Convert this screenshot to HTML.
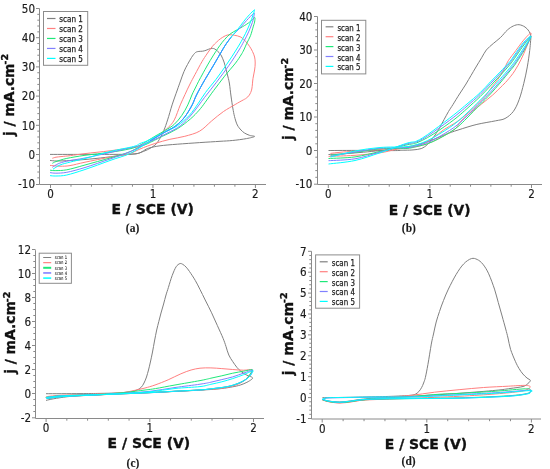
<!DOCTYPE html>
<html><head><meta charset="utf-8"><title>Cyclic voltammograms</title>
<style>html,body{margin:0;padding:0;background:#fff;}svg{display:block;}</style></head>
<body><svg width="550" height="469" viewBox="0 0 550 469">
<rect width="550" height="469" fill="#fff"/>
<path d="M39.5,8.5 V184.5 H266" fill="none" stroke="#8a8a8a" stroke-width="1"/>
<path d="M36,184.5 H39.5" stroke="#8a8a8a" stroke-width="1"/>
<path d="M37.3,177.86 H39.5" stroke="#8a8a8a" stroke-width="1"/>
<path d="M37.3,172.02 H39.5" stroke="#8a8a8a" stroke-width="1"/>
<path d="M37.3,166.18 H39.5" stroke="#8a8a8a" stroke-width="1"/>
<path d="M37.3,160.34 H39.5" stroke="#8a8a8a" stroke-width="1"/>
<path d="M36,154.5 H39.5" stroke="#8a8a8a" stroke-width="1"/>
<path d="M37.3,148.66 H39.5" stroke="#8a8a8a" stroke-width="1"/>
<path d="M37.3,142.82 H39.5" stroke="#8a8a8a" stroke-width="1"/>
<path d="M37.3,136.98 H39.5" stroke="#8a8a8a" stroke-width="1"/>
<path d="M37.3,131.14 H39.5" stroke="#8a8a8a" stroke-width="1"/>
<path d="M36,125.3 H39.5" stroke="#8a8a8a" stroke-width="1"/>
<path d="M37.3,119.46 H39.5" stroke="#8a8a8a" stroke-width="1"/>
<path d="M37.3,113.62 H39.5" stroke="#8a8a8a" stroke-width="1"/>
<path d="M37.3,107.78 H39.5" stroke="#8a8a8a" stroke-width="1"/>
<path d="M37.3,101.94 H39.5" stroke="#8a8a8a" stroke-width="1"/>
<path d="M36,96.1 H39.5" stroke="#8a8a8a" stroke-width="1"/>
<path d="M37.3,90.26 H39.5" stroke="#8a8a8a" stroke-width="1"/>
<path d="M37.3,84.42 H39.5" stroke="#8a8a8a" stroke-width="1"/>
<path d="M37.3,78.58 H39.5" stroke="#8a8a8a" stroke-width="1"/>
<path d="M37.3,72.74 H39.5" stroke="#8a8a8a" stroke-width="1"/>
<path d="M36,66.9 H39.5" stroke="#8a8a8a" stroke-width="1"/>
<path d="M37.3,61.06 H39.5" stroke="#8a8a8a" stroke-width="1"/>
<path d="M37.3,55.22 H39.5" stroke="#8a8a8a" stroke-width="1"/>
<path d="M37.3,49.38 H39.5" stroke="#8a8a8a" stroke-width="1"/>
<path d="M37.3,43.54 H39.5" stroke="#8a8a8a" stroke-width="1"/>
<path d="M36,37.7 H39.5" stroke="#8a8a8a" stroke-width="1"/>
<path d="M37.3,31.86 H39.5" stroke="#8a8a8a" stroke-width="1"/>
<path d="M37.3,26.02 H39.5" stroke="#8a8a8a" stroke-width="1"/>
<path d="M37.3,20.18 H39.5" stroke="#8a8a8a" stroke-width="1"/>
<path d="M37.3,14.34 H39.5" stroke="#8a8a8a" stroke-width="1"/>
<path d="M36,8.5 H39.5" stroke="#8a8a8a" stroke-width="1"/>
<path d="M50.5,184.5 V188" stroke="#8a8a8a" stroke-width="1"/>
<path d="M70.99,184.5 V186.7" stroke="#8a8a8a" stroke-width="1"/>
<path d="M91.48,184.5 V186.7" stroke="#8a8a8a" stroke-width="1"/>
<path d="M111.97,184.5 V186.7" stroke="#8a8a8a" stroke-width="1"/>
<path d="M132.46,184.5 V186.7" stroke="#8a8a8a" stroke-width="1"/>
<path d="M152.95,184.5 V188" stroke="#8a8a8a" stroke-width="1"/>
<path d="M173.44,184.5 V186.7" stroke="#8a8a8a" stroke-width="1"/>
<path d="M193.93,184.5 V186.7" stroke="#8a8a8a" stroke-width="1"/>
<path d="M214.42,184.5 V186.7" stroke="#8a8a8a" stroke-width="1"/>
<path d="M234.91,184.5 V186.7" stroke="#8a8a8a" stroke-width="1"/>
<path d="M255.4,184.5 V188" stroke="#8a8a8a" stroke-width="1"/>
<path d="M50.0,154.4 C56.7,154.4 77.5,154.4 90.0,154.4 C102.5,154.4 117.5,154.4 125.0,154.3 C132.5,154.2 132.5,154.3 135.0,154.0 C137.5,153.7 137.9,153.4 140.0,152.7 C142.1,152.0 145.0,150.9 147.5,149.7 C150.0,148.4 152.9,146.9 154.9,145.2 C156.9,143.5 157.9,141.8 159.4,139.3 C160.9,136.8 162.5,133.5 163.9,130.3 C165.3,127.1 166.2,124.1 167.6,119.9 C169.0,115.7 170.5,109.9 172.1,104.9 C173.7,99.9 175.9,94.0 177.3,90.0 C178.7,86.0 179.4,84.1 180.5,81.0 C181.6,77.9 182.8,74.2 184.0,71.5 C185.2,68.8 186.2,66.8 187.5,64.5 C188.8,62.2 190.2,59.5 191.5,57.5 C192.8,55.5 194.2,53.6 195.4,52.6 C196.7,51.6 197.8,51.6 199.0,51.4 C200.2,51.2 201.3,51.4 202.5,51.2 C203.7,51.0 204.6,50.8 206.0,50.3 C207.4,49.8 209.4,48.8 210.7,48.5 C211.9,48.2 212.6,48.3 213.5,48.5 C214.4,48.7 215.1,49.2 216.0,49.9 C216.9,50.6 218.1,51.5 219.0,52.5 C219.9,53.5 220.7,54.4 221.5,56.0 C222.3,57.6 223.2,59.8 224.0,62.0 C224.8,64.2 225.4,67.0 226.1,69.5 C226.8,72.0 227.4,74.6 228.0,77.0 C228.6,79.4 229.0,80.8 229.5,84.0 C230.0,87.2 230.4,92.0 231.0,96.0 C231.6,100.0 232.2,104.6 232.8,108.0 C233.4,111.4 233.8,113.7 234.5,116.5 C235.2,119.3 236.2,122.8 237.3,125.0 C238.4,127.2 239.8,128.7 241.0,130.0 C242.2,131.3 243.1,132.1 244.5,133.0 C245.9,133.9 248.0,134.8 249.7,135.4 C251.4,136.0 255.1,136.0 254.6,136.5 C254.1,137.0 250.2,137.9 246.5,138.6 C242.8,139.3 236.7,140.1 232.3,140.5 C227.9,140.9 225.4,141.0 220.0,141.3 C214.6,141.7 206.8,142.1 199.7,142.6 C192.6,143.1 183.9,143.7 177.3,144.2 C170.7,144.7 164.6,145.2 160.0,145.8 C155.4,146.4 152.3,147.2 150.0,147.8 C147.7,148.4 147.7,148.3 146.2,149.1 C144.7,149.8 142.5,151.6 141.0,152.3 C139.5,153.0 140.1,153.1 137.3,153.5 C134.6,153.9 129.8,154.2 124.5,154.8 C119.2,155.5 112.1,156.6 105.5,157.4 C98.9,158.2 90.9,159.0 85.0,159.5 C79.1,160.0 74.7,160.2 70.0,160.5 C65.3,160.8 60.3,161.0 57.0,161.0 C53.7,161.0 51.2,160.5 50.0,160.4" fill="none" stroke="#808080" stroke-width="1" stroke-linejoin="round"/>
<path d="M52.3,158.3 C52.9,158.1 54.4,157.5 56.0,157.2 C57.6,156.9 59.6,156.8 62.0,156.5 C64.4,156.2 66.7,156.1 70.5,155.6 C74.3,155.1 78.4,154.4 85.0,153.6 C91.6,152.8 101.9,151.8 110.0,150.8 C118.1,149.8 128.5,148.2 133.5,147.5 C138.5,146.8 137.4,147.4 140.0,146.5 C142.6,145.6 145.8,144.1 149.0,142.2 C152.2,140.2 156.2,137.3 159.4,134.8 C162.6,132.3 165.9,129.8 168.4,127.3 C170.9,124.8 172.3,123.6 174.3,119.9 C176.3,116.2 178.5,109.1 180.3,104.9 C182.1,100.7 183.4,98.0 185.0,94.5 C186.6,91.0 188.3,87.3 190.0,84.0 C191.7,80.7 193.0,78.2 195.0,74.5 C197.0,70.8 200.0,65.0 202.0,61.6 C204.0,58.2 205.2,56.5 206.9,54.0 C208.6,51.5 210.8,48.4 212.4,46.4 C214.0,44.4 215.3,43.3 216.7,42.0 C218.1,40.7 219.0,39.7 220.8,38.5 C222.6,37.3 225.3,35.5 227.5,35.0 C229.7,34.5 232.0,34.9 234.2,35.2 C236.4,35.6 239.0,36.1 240.9,37.1 C242.8,38.1 244.3,40.0 245.7,41.5 C247.1,43.0 248.4,44.6 249.5,46.3 C250.6,48.0 251.7,49.7 252.5,51.5 C253.3,53.3 254.2,55.1 254.6,57.0 C255.0,58.9 255.2,60.8 255.2,63.0 C255.2,65.2 255.0,67.4 254.6,70.0 C254.2,72.6 253.5,75.2 253.0,78.4 C252.5,81.6 252.4,86.2 251.8,89.0 C251.2,91.8 250.2,93.6 249.3,95.1 C248.4,96.6 247.2,97.4 246.2,98.2 C245.2,99.0 245.3,98.8 243.5,99.8 C241.7,100.8 238.5,102.5 235.2,104.5 C231.9,106.5 227.4,108.8 223.5,111.5 C219.6,114.2 215.7,117.6 211.7,120.9 C207.7,124.2 204.2,128.5 199.7,131.1 C195.2,133.7 189.8,134.9 184.8,136.3 C179.8,137.7 174.9,138.1 169.9,139.3 C164.9,140.5 159.9,141.9 154.9,143.5 C149.9,145.1 144.4,147.2 140.0,149.0 C135.6,150.8 133.2,152.7 128.2,154.1 C123.2,155.5 117.2,155.8 110.0,157.2 C102.8,158.5 91.7,160.8 85.0,162.2 C78.3,163.6 74.2,164.9 70.0,165.6 C65.8,166.3 63.3,166.2 60.0,166.2 C56.7,166.2 51.7,165.5 50.0,165.4" fill="none" stroke="#ff8080" stroke-width="1" stroke-linejoin="round"/>
<path d="M52.3,163.4 C52.9,163.1 53.5,162.4 55.9,161.6 C58.3,160.8 61.9,159.4 66.8,158.4 C71.6,157.4 77.8,156.3 85.0,155.3 C92.2,154.3 102.5,153.4 110.0,152.3 C117.5,151.2 125.0,150.0 130.0,148.8 C135.0,147.6 135.8,147.3 140.0,145.2 C144.2,143.1 150.7,138.8 154.9,136.3 C159.1,133.8 162.2,132.3 165.4,130.3 C168.6,128.3 171.6,126.8 174.3,124.3 C177.0,121.8 179.6,118.6 181.8,115.4 C184.1,112.2 186.1,108.3 187.8,104.9 C189.5,101.5 190.5,98.2 191.9,95.0 C193.3,91.8 195.1,88.5 196.3,86.0 C197.5,83.5 197.9,82.7 199.3,80.0 C200.8,77.3 203.2,72.8 205.0,69.6 C206.8,66.3 208.4,63.5 210.2,60.5 C212.0,57.5 214.0,54.3 215.6,51.8 C217.2,49.3 218.5,47.3 220.0,45.3 C221.5,43.2 222.9,41.4 224.6,39.5 C226.3,37.6 227.9,35.7 230.1,34.0 C232.3,32.3 234.9,31.1 237.7,29.5 C240.5,27.9 244.4,25.7 246.7,24.2 C249.0,22.7 250.2,21.5 251.5,20.4 C252.8,19.3 254.3,17.2 254.8,17.5 C255.3,17.8 254.8,20.6 254.6,22.0 C254.4,23.4 254.1,23.8 253.4,26.1 C252.7,28.4 251.6,32.8 250.5,35.7 C249.4,38.6 247.8,41.0 246.7,43.4 C245.6,45.8 244.8,48.1 243.8,50.0 C242.9,51.9 242.4,52.8 241.0,55.0 C239.6,57.2 238.2,59.6 235.5,63.1 C232.8,66.6 228.2,71.6 224.6,76.2 C221.0,80.8 217.0,86.1 213.7,90.5 C210.4,94.9 207.4,99.3 205.0,102.6 C202.6,105.9 201.5,107.5 199.1,110.2 C196.7,112.9 194.2,115.7 190.6,118.8 C187.0,121.9 182.0,125.9 177.3,128.8 C172.6,131.7 167.4,133.8 162.4,136.3 C157.4,138.8 151.2,142.0 147.5,143.7 C143.8,145.4 143.2,145.2 140.0,146.7 C136.8,148.2 133.0,150.6 128.0,152.5 C123.0,154.4 117.2,155.9 110.0,158.0 C102.8,160.1 92.2,163.0 85.0,165.0 C77.8,167.0 71.6,168.9 66.8,169.8 C61.9,170.7 58.7,170.5 55.9,170.6 C53.1,170.7 51.0,170.3 50.0,170.2" fill="none" stroke="#1ee87a" stroke-width="1" stroke-linejoin="round"/>
<path d="M50.0,172.6 C51.0,172.7 53.1,173.2 55.9,173.2 C58.7,173.1 61.9,173.2 66.8,172.3 C71.6,171.4 77.8,169.7 85.0,167.5 C92.2,165.3 102.8,161.5 110.0,159.0 C117.2,156.5 123.0,154.5 128.0,152.5 C133.0,150.5 135.5,149.4 140.0,147.0 C144.5,144.6 150.7,140.3 154.9,137.8 C159.1,135.3 161.9,133.8 165.4,131.8 C168.9,129.8 172.6,128.3 175.8,125.8 C179.0,123.3 182.1,120.4 184.8,116.9 C187.5,113.4 190.2,108.6 192.2,104.9 C194.1,101.2 194.4,99.2 196.5,95.0 C198.6,90.8 202.1,84.5 205.0,79.5 C207.9,74.5 210.9,69.8 213.7,65.0 C216.5,60.2 219.7,54.6 221.8,51.0 C223.9,47.4 224.8,45.9 226.5,43.4 C228.2,40.9 230.1,38.3 232.3,35.7 C234.6,33.1 237.6,30.6 240.0,28.0 C242.4,25.4 244.5,22.8 246.7,20.4 C248.9,18.0 252.1,14.6 253.4,13.6 C254.7,12.6 254.5,12.8 254.3,14.2 C254.1,15.6 253.4,19.4 252.4,22.3 C251.4,25.2 250.0,28.7 248.6,31.9 C247.2,35.1 245.4,38.5 243.8,41.5 C242.2,44.5 241.5,46.0 239.0,50.0 C236.5,54.0 232.8,59.9 229.0,65.3 C225.2,70.7 220.6,76.8 216.5,82.2 C212.4,87.6 208.6,92.2 204.5,97.5 C200.4,102.8 196.2,109.1 192.2,113.8 C188.2,118.5 184.5,122.5 180.3,125.8 C176.1,129.1 171.6,130.8 166.9,133.3 C162.2,135.8 156.4,138.7 151.9,140.7 C147.4,142.7 143.1,144.4 140.0,145.5 C136.9,146.6 138.5,145.8 133.5,147.0 C128.5,148.2 118.1,150.7 110.0,152.5 C101.9,154.3 92.2,156.6 85.0,158.0 C77.8,159.4 71.3,160.2 66.8,161.2 C62.3,162.2 60.5,162.8 58.1,163.8 C55.7,164.8 53.3,166.7 52.3,167.3" fill="none" stroke="#8080ff" stroke-width="1" stroke-linejoin="round"/>
<path d="M50.0,175.6 C51.0,175.7 53.1,176.1 55.9,176.0 C58.7,175.9 61.9,176.1 66.8,175.0 C71.6,173.9 77.8,171.9 85.0,169.5 C92.2,167.1 102.8,163.1 110.0,160.5 C117.2,157.9 123.4,156.4 128.4,154.2 C133.4,152.0 135.6,150.2 140.0,147.5 C144.4,144.8 150.7,140.6 154.9,138.0 C159.1,135.4 161.9,133.8 165.4,131.8 C168.9,129.8 172.6,128.3 175.8,125.8 C179.0,123.3 182.1,120.4 184.8,116.9 C187.5,113.4 190.2,108.6 192.2,104.9 C194.1,101.2 194.4,99.2 196.5,95.0 C198.6,90.8 202.1,84.5 205.0,79.5 C207.9,74.5 210.9,69.8 213.7,65.0 C216.5,60.2 219.7,54.6 221.8,51.0 C223.9,47.4 224.8,45.9 226.5,43.4 C228.2,40.9 230.4,38.1 232.3,35.7 C234.2,33.3 236.1,31.4 238.0,29.0 C239.9,26.6 241.9,23.7 243.8,21.3 C245.7,18.9 247.8,16.4 249.5,14.6 C251.2,12.8 253.1,10.9 253.9,10.3 C254.7,9.7 254.7,9.3 254.3,10.8 C253.9,12.3 252.6,16.4 251.5,19.4 C250.4,22.4 249.0,25.8 247.6,29.0 C246.2,32.2 244.7,35.1 242.8,38.6 C240.9,42.1 238.8,45.7 236.1,50.0 C233.4,54.3 230.2,59.3 226.8,64.2 C223.4,69.1 219.5,74.8 215.9,79.5 C212.3,84.2 208.4,88.5 205.5,92.5 C202.6,96.5 200.9,99.6 198.2,103.4 C195.5,107.2 192.8,111.7 189.3,115.4 C185.8,119.1 181.8,122.8 177.3,125.8 C172.8,128.8 167.4,130.8 162.4,133.3 C157.4,135.8 151.2,139.0 147.5,140.7 C143.8,142.4 142.3,142.5 140.0,143.5 C137.7,144.5 138.5,145.2 133.5,146.5 C128.5,147.8 118.1,149.5 110.0,151.5 C101.9,153.5 91.6,156.8 85.0,158.5 C78.4,160.2 74.7,160.9 70.5,162.0 C66.3,163.1 62.9,163.8 60.0,165.0 C57.1,166.2 54.2,168.5 53.0,169.2" fill="none" stroke="#00ffff" stroke-width="1" stroke-linejoin="round"/>
<path d="M150.0,140.8 C150.8,140.3 152.3,139.5 154.9,138.0 C157.5,136.5 161.9,133.8 165.4,131.8 C168.9,129.8 172.6,128.3 175.8,125.8 C179.0,123.3 182.1,120.4 184.8,116.9 C187.5,113.4 190.2,108.6 192.2,104.9 C194.1,101.2 194.4,99.2 196.5,95.0 C198.6,90.8 202.1,84.5 205.0,79.5 C207.9,74.5 210.9,69.8 213.7,65.0 C216.5,60.2 219.7,54.6 221.8,51.0 C223.9,47.4 225.0,45.6 226.5,43.4 C228.0,41.1 230.2,38.5 231.0,37.5" fill="none" stroke="#3c8cff" stroke-width="1.0" stroke-linejoin="round"/>
<rect x="43.5" y="11.5" width="44.2" height="53.8" fill="#fff" stroke="#8c8c8c" stroke-width="1"/>
<path d="M47,18.5 H55.5" stroke="#808080" stroke-width="1.2"/>
<text x="59.2" y="22.1" font-family="DejaVu Sans Condensed, Liberation Sans, sans-serif" font-size="9" fill="#222" stroke="#222" stroke-width="0.25" textLength="23.7" lengthAdjust="spacingAndGlyphs">scan 1</text>
<path d="M47,28.48 H55.5" stroke="#ff8080" stroke-width="1.2"/>
<text x="59.2" y="32.08" font-family="DejaVu Sans Condensed, Liberation Sans, sans-serif" font-size="9" fill="#222" stroke="#222" stroke-width="0.25" textLength="23.7" lengthAdjust="spacingAndGlyphs">scan 2</text>
<path d="M47,38.46 H55.5" stroke="#1ee87a" stroke-width="1.2"/>
<text x="59.2" y="42.06" font-family="DejaVu Sans Condensed, Liberation Sans, sans-serif" font-size="9" fill="#222" stroke="#222" stroke-width="0.25" textLength="23.7" lengthAdjust="spacingAndGlyphs">scan 3</text>
<path d="M47,48.44 H55.5" stroke="#8080ff" stroke-width="1.2"/>
<text x="59.2" y="52.04" font-family="DejaVu Sans Condensed, Liberation Sans, sans-serif" font-size="9" fill="#222" stroke="#222" stroke-width="0.25" textLength="23.7" lengthAdjust="spacingAndGlyphs">scan 4</text>
<path d="M47,58.42 H55.5" stroke="#00ffff" stroke-width="1.2"/>
<text x="59.2" y="62.02" font-family="DejaVu Sans Condensed, Liberation Sans, sans-serif" font-size="9" fill="#222" stroke="#222" stroke-width="0.25" textLength="23.7" lengthAdjust="spacingAndGlyphs">scan 5</text>
<text x="35" y="187.9" text-anchor="end" font-family="DejaVu Sans Condensed, Liberation Sans, sans-serif" font-size="11.5" fill="#1a1a1a" stroke="#1a1a1a" stroke-width="0.15">-10</text>
<text x="35" y="158.7" text-anchor="end" font-family="DejaVu Sans Condensed, Liberation Sans, sans-serif" font-size="11.5" fill="#1a1a1a" stroke="#1a1a1a" stroke-width="0.15">0</text>
<text x="35" y="129.5" text-anchor="end" font-family="DejaVu Sans Condensed, Liberation Sans, sans-serif" font-size="11.5" fill="#1a1a1a" stroke="#1a1a1a" stroke-width="0.15">10</text>
<text x="35" y="100.3" text-anchor="end" font-family="DejaVu Sans Condensed, Liberation Sans, sans-serif" font-size="11.5" fill="#1a1a1a" stroke="#1a1a1a" stroke-width="0.15">20</text>
<text x="35" y="71.1" text-anchor="end" font-family="DejaVu Sans Condensed, Liberation Sans, sans-serif" font-size="11.5" fill="#1a1a1a" stroke="#1a1a1a" stroke-width="0.15">30</text>
<text x="35" y="41.9" text-anchor="end" font-family="DejaVu Sans Condensed, Liberation Sans, sans-serif" font-size="11.5" fill="#1a1a1a" stroke="#1a1a1a" stroke-width="0.15">40</text>
<text x="35" y="12.7" text-anchor="end" font-family="DejaVu Sans Condensed, Liberation Sans, sans-serif" font-size="11.5" fill="#1a1a1a" stroke="#1a1a1a" stroke-width="0.15">50</text>
<text x="50.5" y="197.9" text-anchor="middle" font-family="DejaVu Sans Condensed, Liberation Sans, sans-serif" font-size="11.5" fill="#1a1a1a" stroke="#1a1a1a" stroke-width="0.15">0</text>
<text x="152.95" y="197.9" text-anchor="middle" font-family="DejaVu Sans Condensed, Liberation Sans, sans-serif" font-size="11.5" fill="#1a1a1a" stroke="#1a1a1a" stroke-width="0.15">1</text>
<text x="255.4" y="197.9" text-anchor="middle" font-family="DejaVu Sans Condensed, Liberation Sans, sans-serif" font-size="11.5" fill="#1a1a1a" stroke="#1a1a1a" stroke-width="0.15">2</text>
<text x="111.4" y="213.6" font-family="DejaVu Sans, Liberation Sans, sans-serif" font-weight="bold" font-size="14.2" fill="#111" stroke="#111" stroke-width="0.35" textLength="82.6" lengthAdjust="spacingAndGlyphs">E / SCE (V)</text>
<text transform="translate(13.6,136.1) rotate(-90)" font-family="DejaVu Sans, Liberation Sans, sans-serif" font-weight="bold" font-size="13.2" fill="#111" stroke="#111" stroke-width="0.35"><tspan textLength="72.6" lengthAdjust="spacingAndGlyphs">j / mA.cm</tspan><tspan dx="-1.0" dy="-5.2" font-size="9.5">-2</tspan></text>
<text x="125.8" y="231.6" font-family="Liberation Serif, serif" font-weight="bold" font-size="11.5" fill="#1a1a1a" stroke="#1a1a1a" stroke-width="0.1">(a)</text>
<path d="M317.5,16.5 V184.5 H542" fill="none" stroke="#8a8a8a" stroke-width="1"/>
<path d="M314,184.2 H317.5" stroke="#8a8a8a" stroke-width="1"/>
<path d="M315.3,177.3 H317.5" stroke="#8a8a8a" stroke-width="1"/>
<path d="M315.3,170.6 H317.5" stroke="#8a8a8a" stroke-width="1"/>
<path d="M315.3,163.9 H317.5" stroke="#8a8a8a" stroke-width="1"/>
<path d="M315.3,157.2 H317.5" stroke="#8a8a8a" stroke-width="1"/>
<path d="M314,150.5 H317.5" stroke="#8a8a8a" stroke-width="1"/>
<path d="M315.3,143.8 H317.5" stroke="#8a8a8a" stroke-width="1"/>
<path d="M315.3,137.1 H317.5" stroke="#8a8a8a" stroke-width="1"/>
<path d="M315.3,130.4 H317.5" stroke="#8a8a8a" stroke-width="1"/>
<path d="M315.3,123.7 H317.5" stroke="#8a8a8a" stroke-width="1"/>
<path d="M314,117 H317.5" stroke="#8a8a8a" stroke-width="1"/>
<path d="M315.3,110.3 H317.5" stroke="#8a8a8a" stroke-width="1"/>
<path d="M315.3,103.6 H317.5" stroke="#8a8a8a" stroke-width="1"/>
<path d="M315.3,96.9 H317.5" stroke="#8a8a8a" stroke-width="1"/>
<path d="M315.3,90.2 H317.5" stroke="#8a8a8a" stroke-width="1"/>
<path d="M314,83.5 H317.5" stroke="#8a8a8a" stroke-width="1"/>
<path d="M315.3,76.8 H317.5" stroke="#8a8a8a" stroke-width="1"/>
<path d="M315.3,70.1 H317.5" stroke="#8a8a8a" stroke-width="1"/>
<path d="M315.3,63.4 H317.5" stroke="#8a8a8a" stroke-width="1"/>
<path d="M315.3,56.7 H317.5" stroke="#8a8a8a" stroke-width="1"/>
<path d="M314,50 H317.5" stroke="#8a8a8a" stroke-width="1"/>
<path d="M315.3,43.3 H317.5" stroke="#8a8a8a" stroke-width="1"/>
<path d="M315.3,36.6 H317.5" stroke="#8a8a8a" stroke-width="1"/>
<path d="M315.3,29.9 H317.5" stroke="#8a8a8a" stroke-width="1"/>
<path d="M315.3,23.2 H317.5" stroke="#8a8a8a" stroke-width="1"/>
<path d="M314,16.5 H317.5" stroke="#8a8a8a" stroke-width="1"/>
<path d="M328.3,184.5 V188" stroke="#8a8a8a" stroke-width="1"/>
<path d="M348.62,184.5 V186.7" stroke="#8a8a8a" stroke-width="1"/>
<path d="M368.94,184.5 V186.7" stroke="#8a8a8a" stroke-width="1"/>
<path d="M389.26,184.5 V186.7" stroke="#8a8a8a" stroke-width="1"/>
<path d="M409.58,184.5 V186.7" stroke="#8a8a8a" stroke-width="1"/>
<path d="M429.9,184.5 V188" stroke="#8a8a8a" stroke-width="1"/>
<path d="M450.22,184.5 V186.7" stroke="#8a8a8a" stroke-width="1"/>
<path d="M470.54,184.5 V186.7" stroke="#8a8a8a" stroke-width="1"/>
<path d="M490.86,184.5 V186.7" stroke="#8a8a8a" stroke-width="1"/>
<path d="M511.18,184.5 V186.7" stroke="#8a8a8a" stroke-width="1"/>
<path d="M531.5,184.5 V188" stroke="#8a8a8a" stroke-width="1"/>
<path d="M328.5,150.5 C333.8,150.5 349.3,150.4 360.0,150.4 C370.7,150.4 385.2,150.6 392.7,150.6 C400.2,150.6 401.6,150.3 405.0,150.2 C408.4,150.1 410.3,150.2 413.0,149.9 C415.7,149.6 418.8,149.5 421.2,148.6 C423.6,147.7 425.7,146.1 427.7,144.3 C429.7,142.5 431.4,140.2 433.2,137.7 C435.0,135.2 436.8,132.5 438.6,129.5 C440.4,126.5 442.5,122.5 444.1,119.5 C445.8,116.5 447.0,114.0 448.5,111.5 C450.0,109.0 451.2,107.4 453.0,104.5 C454.8,101.6 457.3,97.4 459.5,94.0 C461.7,90.6 464.1,87.1 466.0,84.0 C467.9,80.9 469.3,78.3 471.0,75.5 C472.7,72.7 474.2,70.0 476.0,67.0 C477.8,64.0 479.9,60.6 481.6,57.8 C483.3,55.0 484.4,52.4 486.3,50.0 C488.2,47.6 491.0,45.6 493.3,43.5 C495.6,41.4 498.0,39.9 500.4,37.6 C502.8,35.4 505.2,31.9 507.4,30.0 C509.5,28.1 511.3,26.9 513.3,26.0 C515.2,25.1 517.1,24.5 519.1,24.7 C521.1,24.9 523.3,25.9 525.0,27.0 C526.7,28.1 528.2,29.9 529.2,31.5 C530.2,33.1 530.6,34.6 530.8,36.4 C531.0,38.1 530.7,39.6 530.5,42.0 C530.3,44.4 530.2,46.4 529.7,50.5 C529.2,54.6 528.3,61.4 527.3,66.9 C526.3,72.4 525.2,77.8 523.8,83.3 C522.4,88.8 520.9,95.0 519.1,99.7 C517.4,104.4 515.6,108.4 513.3,111.5 C510.9,114.6 507.9,117.0 505.0,118.5 C502.1,120.0 500.4,119.8 495.7,120.8 C491.0,121.8 483.2,122.9 476.9,124.4 C470.6,125.9 463.2,128.4 458.1,130.0 C453.0,131.6 450.4,132.6 446.2,134.2 C442.0,135.8 437.5,138.0 433.1,139.6 C428.7,141.2 424.7,142.7 420.0,144.0 C415.3,145.3 410.0,146.4 405.0,147.3 C400.0,148.2 397.5,148.6 390.0,149.5 C382.5,150.4 368.3,151.8 360.0,152.5 C351.7,153.2 345.2,153.7 340.0,154.0 C334.8,154.3 330.4,154.4 328.5,154.5" fill="none" stroke="#808080" stroke-width="1" stroke-linejoin="round"/>
<path d="M328.5,156.4 C330.4,156.3 335.6,156.2 340.0,156.0 C344.4,155.8 348.3,155.8 355.0,155.3 C361.7,154.8 373.3,153.8 380.0,152.8 C386.7,151.9 390.8,150.4 395.0,149.6 C399.2,148.8 401.4,148.7 405.0,148.2 C408.6,147.7 413.0,147.4 416.8,146.6 C420.6,145.8 424.1,144.9 427.7,143.6 C431.3,142.3 434.1,141.0 438.6,138.6 C443.2,136.2 451.4,131.8 455.0,129.0 C458.6,126.2 457.6,124.4 460.5,121.5 C463.4,118.6 468.7,114.4 472.2,111.5 C475.7,108.6 478.2,106.8 481.6,104.0 C485.0,101.2 489.5,97.8 492.7,95.0 C495.9,92.2 498.5,89.4 500.9,87.0 C503.3,84.6 504.7,83.5 507.0,80.8 C509.3,78.1 512.4,74.5 514.7,70.9 C517.1,67.3 519.2,63.2 521.1,59.4 C523.0,55.6 524.7,51.5 526.2,47.9 C527.7,44.3 529.3,40.2 530.0,37.7 C530.7,35.2 531.7,32.6 530.6,33.0 C529.5,33.4 526.1,37.3 523.6,40.2 C521.1,43.1 518.4,47.1 515.9,50.5 C513.4,53.9 510.3,57.5 508.3,60.7 C506.3,63.9 505.6,66.6 503.9,69.7 C502.2,72.8 499.9,76.5 497.9,79.4 C495.9,82.3 493.9,84.3 491.9,86.9 C489.9,89.5 488.0,92.6 486.0,95.0 C484.0,97.4 483.2,98.3 480.0,101.5 C476.8,104.7 471.2,110.4 467.0,114.0 C462.8,117.6 458.8,120.4 455.0,123.0 C451.2,125.6 447.7,127.0 444.1,129.5 C440.5,131.9 436.8,135.3 433.2,137.7 C429.6,140.1 425.9,142.4 422.3,144.0 C418.7,145.6 415.9,146.2 411.4,147.0 C406.8,147.8 400.2,148.2 395.0,148.6 C389.8,149.0 386.7,149.1 380.0,149.5 C373.3,149.9 361.7,150.7 355.0,151.2 C348.3,151.7 344.1,151.9 340.0,152.3 C335.9,152.7 332.1,153.2 330.5,153.4" fill="none" stroke="#ff8080" stroke-width="1" stroke-linejoin="round"/>
<path d="M328.5,158.5 C332.9,158.2 346.4,158.1 355.0,156.9 C363.6,155.7 371.5,153.4 380.0,151.4 C388.5,149.4 399.8,146.5 405.9,145.1 C412.0,143.7 413.2,144.1 416.8,142.8 C420.4,141.5 424.1,139.5 427.7,137.5 C431.3,135.5 435.0,133.0 438.6,130.6 C442.2,128.2 446.3,125.3 449.5,123.0 C452.7,120.7 455.1,118.9 458.0,116.5 C460.9,114.1 463.3,111.9 467.0,108.6 C470.7,105.3 476.1,100.5 480.0,96.7 C483.9,92.9 487.1,89.4 490.4,85.9 C493.7,82.4 496.8,79.2 500.0,75.7 C503.2,72.2 507.5,67.5 509.9,64.6 C512.3,61.7 512.4,61.3 514.5,58.4 C516.6,55.5 520.1,50.1 522.3,47.1 C524.5,44.1 526.1,42.0 527.5,40.3 C528.9,38.5 530.1,37.0 530.6,36.6 C531.1,36.2 531.1,36.5 530.6,37.7 C530.1,39.0 528.9,41.5 527.5,44.1 C526.1,46.7 524.5,50.0 522.3,53.5 C520.1,57.0 516.6,62.4 514.5,65.3 C512.4,68.2 512.3,68.0 509.9,71.0 C507.5,74.0 503.2,79.3 500.0,83.1 C496.8,86.9 493.7,90.4 490.4,94.0 C487.1,97.6 483.9,100.5 480.0,104.5 C476.1,108.5 470.7,114.3 467.0,118.0 C463.3,121.7 460.9,124.2 458.0,126.6 C455.1,129.0 452.7,130.6 449.5,132.6 C446.3,134.6 442.2,137.0 438.6,138.8 C435.0,140.7 431.3,142.4 427.7,143.7 C424.1,145.0 420.4,145.7 416.8,146.5 C413.2,147.3 412.0,148.1 405.9,148.5 C399.8,148.9 388.5,148.1 380.0,148.8 C371.5,149.5 363.2,151.4 355.0,152.5 C346.8,153.6 334.6,154.8 330.5,155.3" fill="none" stroke="#1ee87a" stroke-width="1" stroke-linejoin="round"/>
<path d="M328.5,160.7 C332.9,160.4 346.4,160.2 355.0,158.8 C363.6,157.4 371.5,154.4 380.0,152.0 C388.5,149.6 399.8,145.9 405.9,144.2 C412.0,142.5 413.2,143.2 416.8,141.8 C420.4,140.4 424.1,138.2 427.7,135.9 C431.3,133.7 435.0,130.9 438.6,128.3 C442.2,125.7 446.3,122.8 449.5,120.4 C452.7,118.0 455.1,116.2 458.0,113.8 C460.9,111.4 463.3,109.3 467.0,106.1 C470.7,102.9 476.1,98.3 480.0,94.6 C483.9,90.9 487.1,87.2 490.4,83.7 C493.7,80.2 496.8,77.2 500.0,73.7 C503.2,70.2 507.5,65.8 509.9,62.9 C512.3,60.0 512.4,59.4 514.5,56.5 C516.6,53.6 520.1,48.3 522.3,45.4 C524.5,42.5 526.1,40.8 527.5,39.3 C528.9,37.8 530.1,36.6 530.6,36.3 C531.1,36.0 531.1,36.2 530.6,37.4 C530.1,38.6 528.9,40.8 527.5,43.3 C526.1,45.8 524.5,48.7 522.3,52.1 C520.1,55.5 516.6,60.8 514.5,63.7 C512.4,66.6 512.3,66.6 509.9,69.6 C507.5,72.5 503.2,77.6 500.0,81.4 C496.8,85.2 493.7,88.7 490.4,92.2 C487.1,95.8 483.9,98.8 480.0,102.7 C476.1,106.7 470.7,112.3 467.0,115.9 C463.3,119.5 460.9,122.0 458.0,124.4 C455.1,126.8 452.7,128.4 449.5,130.5 C446.3,132.6 442.2,135.0 438.6,137.0 C435.0,139.0 431.3,140.9 427.7,142.3 C424.1,143.8 420.4,144.8 416.8,145.7 C413.2,146.6 412.0,147.3 405.9,147.7 C399.8,148.1 388.5,147.5 380.0,148.2 C371.5,148.9 363.2,150.7 355.0,152.0 C346.8,153.3 334.6,155.6 330.5,156.3" fill="none" stroke="#8080ff" stroke-width="1" stroke-linejoin="round"/>
<path d="M328.5,164.0 C332.9,163.4 346.4,162.4 355.0,160.5 C363.6,158.6 371.5,155.6 380.0,152.8 C388.5,150.0 399.8,145.5 405.9,143.5 C412.0,141.5 413.2,142.5 416.8,141.0 C420.4,139.5 424.1,136.9 427.7,134.5 C431.3,132.1 435.0,129.2 438.6,126.5 C442.2,123.8 446.3,120.7 449.5,118.2 C452.7,115.7 455.1,113.9 458.0,111.5 C460.9,109.1 463.3,107.1 467.0,104.0 C470.7,100.9 476.1,96.5 480.0,92.8 C483.9,89.1 487.1,85.4 490.4,81.9 C493.7,78.5 496.8,75.5 500.0,72.1 C503.2,68.7 507.5,64.3 509.9,61.5 C512.3,58.6 512.4,57.9 514.5,55.0 C516.6,52.1 520.1,46.8 522.3,44.0 C524.5,41.2 526.1,39.8 527.5,38.5 C528.9,37.2 530.1,36.2 530.6,36.0 C531.1,35.8 531.1,36.1 530.6,37.1 C530.1,38.1 528.9,39.9 527.5,42.1 C526.1,44.3 524.5,46.9 522.3,50.2 C520.1,53.5 516.6,58.8 514.5,61.7 C512.4,64.6 512.3,64.8 509.9,67.7 C507.5,70.6 503.2,75.5 500.0,79.2 C496.8,82.9 493.7,86.3 490.4,89.8 C487.1,93.3 483.9,96.5 480.0,100.4 C476.1,104.3 470.7,109.6 467.0,113.1 C463.3,116.6 460.9,118.9 458.0,121.3 C455.1,123.7 452.7,125.4 449.5,127.6 C446.3,129.8 442.2,132.3 438.6,134.5 C435.0,136.7 431.3,138.8 427.7,140.5 C424.1,142.2 420.4,143.6 416.8,144.6 C413.2,145.6 412.0,146.2 405.9,146.7 C399.8,147.2 388.5,146.8 380.0,147.5 C371.5,148.2 363.2,149.4 355.0,151.0 C346.8,152.6 334.6,156.0 330.5,157.0" fill="none" stroke="#00ffff" stroke-width="1" stroke-linejoin="round"/>
<rect x="321.5" y="20.3" width="44.3" height="53.6" fill="#fff" stroke="#8c8c8c" stroke-width="1"/>
<path d="M325.6,26.8 H333.4" stroke="#808080" stroke-width="1.2"/>
<text x="337.4" y="30.8" font-family="DejaVu Sans Condensed, Liberation Sans, sans-serif" font-size="9" fill="#222" stroke="#222" stroke-width="0.25" textLength="23.0" lengthAdjust="spacingAndGlyphs">scan 1</text>
<path d="M325.6,36.7 H333.4" stroke="#ff8080" stroke-width="1.2"/>
<text x="337.4" y="40.7" font-family="DejaVu Sans Condensed, Liberation Sans, sans-serif" font-size="9" fill="#222" stroke="#222" stroke-width="0.25" textLength="23.0" lengthAdjust="spacingAndGlyphs">scan 2</text>
<path d="M325.6,46.6 H333.4" stroke="#1ee87a" stroke-width="1.2"/>
<text x="337.4" y="50.6" font-family="DejaVu Sans Condensed, Liberation Sans, sans-serif" font-size="9" fill="#222" stroke="#222" stroke-width="0.25" textLength="23.0" lengthAdjust="spacingAndGlyphs">scan 3</text>
<path d="M325.6,56.5 H333.4" stroke="#8080ff" stroke-width="1.2"/>
<text x="337.4" y="60.5" font-family="DejaVu Sans Condensed, Liberation Sans, sans-serif" font-size="9" fill="#222" stroke="#222" stroke-width="0.25" textLength="23.0" lengthAdjust="spacingAndGlyphs">scan 4</text>
<path d="M325.6,66.4 H333.4" stroke="#00ffff" stroke-width="1.2"/>
<text x="337.4" y="70.4" font-family="DejaVu Sans Condensed, Liberation Sans, sans-serif" font-size="9" fill="#222" stroke="#222" stroke-width="0.25" textLength="23.0" lengthAdjust="spacingAndGlyphs">scan 5</text>
<text x="312.3" y="188.2" text-anchor="end" font-family="DejaVu Sans Condensed, Liberation Sans, sans-serif" font-size="11.5" fill="#1a1a1a" stroke="#1a1a1a" stroke-width="0.15">-10</text>
<text x="312.3" y="154.7" text-anchor="end" font-family="DejaVu Sans Condensed, Liberation Sans, sans-serif" font-size="11.5" fill="#1a1a1a" stroke="#1a1a1a" stroke-width="0.15">0</text>
<text x="312.3" y="121.2" text-anchor="end" font-family="DejaVu Sans Condensed, Liberation Sans, sans-serif" font-size="11.5" fill="#1a1a1a" stroke="#1a1a1a" stroke-width="0.15">10</text>
<text x="312.3" y="87.7" text-anchor="end" font-family="DejaVu Sans Condensed, Liberation Sans, sans-serif" font-size="11.5" fill="#1a1a1a" stroke="#1a1a1a" stroke-width="0.15">20</text>
<text x="312.3" y="54.2" text-anchor="end" font-family="DejaVu Sans Condensed, Liberation Sans, sans-serif" font-size="11.5" fill="#1a1a1a" stroke="#1a1a1a" stroke-width="0.15">30</text>
<text x="312.3" y="20.7" text-anchor="end" font-family="DejaVu Sans Condensed, Liberation Sans, sans-serif" font-size="11.5" fill="#1a1a1a" stroke="#1a1a1a" stroke-width="0.15">40</text>
<text x="328.3" y="198.1" text-anchor="middle" font-family="DejaVu Sans Condensed, Liberation Sans, sans-serif" font-size="11.5" fill="#1a1a1a" stroke="#1a1a1a" stroke-width="0.15">0</text>
<text x="429.9" y="198.1" text-anchor="middle" font-family="DejaVu Sans Condensed, Liberation Sans, sans-serif" font-size="11.5" fill="#1a1a1a" stroke="#1a1a1a" stroke-width="0.15">1</text>
<text x="531.5" y="198.1" text-anchor="middle" font-family="DejaVu Sans Condensed, Liberation Sans, sans-serif" font-size="11.5" fill="#1a1a1a" stroke="#1a1a1a" stroke-width="0.15">2</text>
<text x="388.7" y="214.6" font-family="DejaVu Sans, Liberation Sans, sans-serif" font-weight="bold" font-size="14.2" fill="#111" stroke="#111" stroke-width="0.35" textLength="81.8" lengthAdjust="spacingAndGlyphs">E / SCE (V)</text>
<text transform="translate(292.8,140.0) rotate(-90)" font-family="DejaVu Sans, Liberation Sans, sans-serif" font-weight="bold" font-size="13.2" fill="#111" stroke="#111" stroke-width="0.35"><tspan textLength="72.6" lengthAdjust="spacingAndGlyphs">j / mA.cm</tspan><tspan dx="-1.0" dy="-5.2" font-size="9.5">-2</tspan></text>
<text x="401.8" y="232.4" font-family="Liberation Serif, serif" font-weight="bold" font-size="11.5" fill="#1a1a1a" stroke="#1a1a1a" stroke-width="0.1">(b)</text>
<path d="M35.5,250.2 V418.5 H264" fill="none" stroke="#8a8a8a" stroke-width="1"/>
<path d="M32,417.8 H35.5" stroke="#8a8a8a" stroke-width="1"/>
<path d="M33.3,411.5 H35.5" stroke="#8a8a8a" stroke-width="1"/>
<path d="M33.3,405.5 H35.5" stroke="#8a8a8a" stroke-width="1"/>
<path d="M33.3,399.5 H35.5" stroke="#8a8a8a" stroke-width="1"/>
<path d="M32,393.5 H35.5" stroke="#8a8a8a" stroke-width="1"/>
<path d="M33.3,387.5 H35.5" stroke="#8a8a8a" stroke-width="1"/>
<path d="M33.3,381.5 H35.5" stroke="#8a8a8a" stroke-width="1"/>
<path d="M33.3,375.5 H35.5" stroke="#8a8a8a" stroke-width="1"/>
<path d="M32,369.5 H35.5" stroke="#8a8a8a" stroke-width="1"/>
<path d="M33.3,363.5 H35.5" stroke="#8a8a8a" stroke-width="1"/>
<path d="M33.3,357.5 H35.5" stroke="#8a8a8a" stroke-width="1"/>
<path d="M33.3,351.5 H35.5" stroke="#8a8a8a" stroke-width="1"/>
<path d="M32,345.5 H35.5" stroke="#8a8a8a" stroke-width="1"/>
<path d="M33.3,339.5 H35.5" stroke="#8a8a8a" stroke-width="1"/>
<path d="M33.3,333.5 H35.5" stroke="#8a8a8a" stroke-width="1"/>
<path d="M33.3,327.5 H35.5" stroke="#8a8a8a" stroke-width="1"/>
<path d="M32,321.5 H35.5" stroke="#8a8a8a" stroke-width="1"/>
<path d="M33.3,315.5 H35.5" stroke="#8a8a8a" stroke-width="1"/>
<path d="M33.3,309.5 H35.5" stroke="#8a8a8a" stroke-width="1"/>
<path d="M33.3,303.5 H35.5" stroke="#8a8a8a" stroke-width="1"/>
<path d="M32,297.5 H35.5" stroke="#8a8a8a" stroke-width="1"/>
<path d="M33.3,291.5 H35.5" stroke="#8a8a8a" stroke-width="1"/>
<path d="M33.3,285.5 H35.5" stroke="#8a8a8a" stroke-width="1"/>
<path d="M33.3,279.5 H35.5" stroke="#8a8a8a" stroke-width="1"/>
<path d="M32,273.5 H35.5" stroke="#8a8a8a" stroke-width="1"/>
<path d="M33.3,267.5 H35.5" stroke="#8a8a8a" stroke-width="1"/>
<path d="M33.3,261.5 H35.5" stroke="#8a8a8a" stroke-width="1"/>
<path d="M33.3,255.5 H35.5" stroke="#8a8a8a" stroke-width="1"/>
<path d="M32,249.5 H35.5" stroke="#8a8a8a" stroke-width="1"/>
<path d="M46.1,418.5 V422" stroke="#8a8a8a" stroke-width="1"/>
<path d="M66.84,418.5 V420.7" stroke="#8a8a8a" stroke-width="1"/>
<path d="M87.58,418.5 V420.7" stroke="#8a8a8a" stroke-width="1"/>
<path d="M108.32,418.5 V420.7" stroke="#8a8a8a" stroke-width="1"/>
<path d="M129.06,418.5 V420.7" stroke="#8a8a8a" stroke-width="1"/>
<path d="M149.8,418.5 V422" stroke="#8a8a8a" stroke-width="1"/>
<path d="M170.54,418.5 V420.7" stroke="#8a8a8a" stroke-width="1"/>
<path d="M191.28,418.5 V420.7" stroke="#8a8a8a" stroke-width="1"/>
<path d="M212.02,418.5 V420.7" stroke="#8a8a8a" stroke-width="1"/>
<path d="M232.76,418.5 V420.7" stroke="#8a8a8a" stroke-width="1"/>
<path d="M253.5,418.5 V422" stroke="#8a8a8a" stroke-width="1"/>
<path d="M46.0,393.7 C51.7,393.7 71.0,393.7 80.0,393.6 C89.0,393.6 94.2,393.5 100.0,393.4 C105.8,393.3 110.8,393.2 115.0,393.0 C119.2,392.8 122.2,392.6 125.0,392.4 C127.8,392.1 130.0,391.9 132.0,391.5 C134.0,391.1 135.5,390.7 137.0,390.0 C138.5,389.3 139.8,388.7 141.0,387.5 C142.2,386.3 143.1,384.8 144.0,383.0 C144.9,381.2 145.8,379.2 146.5,377.0 C147.2,374.8 147.8,372.5 148.5,370.0 C149.2,367.5 149.7,365.0 150.4,362.0 C151.1,359.0 151.8,355.5 152.5,352.0 C153.2,348.5 153.8,344.7 154.5,341.0 C155.2,337.3 156.0,333.2 156.7,330.0 C157.4,326.8 158.1,324.3 158.8,321.5 C159.5,318.7 160.2,315.9 161.0,313.0 C161.8,310.1 162.8,307.0 163.6,304.0 C164.4,301.0 165.2,297.8 166.0,295.0 C166.8,292.2 167.4,290.8 168.4,287.5 C169.4,284.2 170.9,278.9 172.2,275.5 C173.5,272.1 174.8,268.8 176.1,266.8 C177.4,264.8 178.8,264.0 179.9,263.6 C181.1,263.2 182.0,263.9 183.0,264.5 C184.0,265.1 184.9,265.8 186.0,267.0 C187.1,268.2 187.9,269.2 189.5,271.5 C191.1,273.8 193.6,277.5 195.3,280.5 C197.1,283.5 198.3,286.2 200.0,289.5 C201.7,292.8 203.3,296.1 205.2,300.0 C207.1,303.9 209.6,308.5 211.6,312.8 C213.6,317.1 215.5,321.3 217.4,325.6 C219.3,329.9 221.7,334.9 223.1,338.4 C224.5,341.9 225.1,343.7 226.0,346.5 C226.9,349.3 227.7,352.5 228.8,355.0 C229.9,357.5 231.3,359.4 232.7,361.5 C234.1,363.6 235.6,365.9 237.1,367.6 C238.6,369.3 239.9,370.5 241.5,371.8 C243.1,373.1 245.2,374.3 246.9,375.2 C248.6,376.1 250.7,376.5 251.6,377.0 C252.5,377.5 252.6,377.8 252.6,378.2 C252.6,378.6 252.2,378.9 251.3,379.6 C250.4,380.3 248.7,381.4 246.9,382.3 C245.1,383.2 242.8,384.2 240.4,385.0 C238.0,385.8 235.8,386.2 232.7,386.8 C229.6,387.4 225.4,388.1 221.8,388.5 C218.2,388.9 217.9,389.1 210.9,389.5 C203.9,389.9 190.2,390.7 180.0,391.2 C169.8,391.7 160.0,392.1 150.0,392.5 C140.0,392.9 128.3,393.2 120.0,393.6 C111.7,394.0 107.9,394.5 100.0,394.9 C92.1,395.3 80.0,395.6 72.7,396.2 C65.4,396.8 60.9,397.6 56.4,398.3 C51.9,399.0 47.7,400.0 46.0,400.4" fill="none" stroke="#808080" stroke-width="1" stroke-linejoin="round"/>
<path d="M46.0,397.2 C46.3,397.1 45.3,396.8 47.6,396.5 C49.9,396.2 54.6,395.6 60.0,395.3 C65.4,395.0 73.3,394.9 80.0,394.7 C86.7,394.5 94.2,394.2 100.0,394.0 C105.8,393.8 110.8,393.5 115.0,393.2 C119.2,392.9 121.7,392.8 125.0,392.3 C128.3,391.8 131.7,391.0 135.0,390.3 C138.3,389.6 141.7,388.9 145.0,388.0 C148.3,387.1 151.1,386.4 155.0,385.0 C158.9,383.6 163.9,381.7 168.2,379.8 C172.5,377.9 177.1,375.4 180.9,373.8 C184.7,372.2 187.9,370.9 191.1,370.0 C194.3,369.1 196.7,368.6 200.0,368.2 C203.3,367.8 207.3,367.8 210.9,367.9 C214.5,368.0 218.2,368.3 221.8,368.6 C225.4,368.9 229.1,369.2 232.7,369.5 C236.3,369.8 240.4,370.2 243.6,370.2 C246.8,370.2 250.5,369.2 251.8,369.6 C253.1,370.0 251.9,371.3 251.3,372.5 C250.7,373.7 249.3,375.4 248.0,376.8 C246.7,378.2 245.6,379.8 243.6,381.2 C241.6,382.6 238.7,384.0 236.0,385.0 C233.3,386.0 230.6,386.7 227.3,387.3 C224.0,387.9 221.0,388.5 216.4,388.9 C211.8,389.3 206.9,389.5 200.0,389.9 C193.1,390.3 183.3,390.8 175.0,391.2 C166.7,391.6 159.2,392.2 150.0,392.6 C140.8,393.1 128.3,393.6 120.0,393.9 C111.7,394.2 108.3,394.2 100.0,394.6 C91.7,395.0 77.5,395.6 70.0,396.1 C62.5,396.6 58.7,397.0 55.0,397.4 C51.3,397.8 49.5,398.6 48.0,398.6 C46.5,398.6 46.3,397.4 46.0,397.2" fill="none" stroke="#ff8080" stroke-width="1" stroke-linejoin="round"/>
<path d="M46.0,397.4 C48.3,397.1 54.3,396.2 60.0,395.8 C65.7,395.4 73.3,395.3 80.0,395.1 C86.7,394.9 92.5,394.8 100.0,394.4 C107.5,394.0 117.5,393.2 125.0,392.5 C132.5,391.8 139.9,390.6 145.0,390.0 C150.1,389.4 150.4,389.4 155.4,388.6 C160.4,387.8 167.6,386.3 175.0,385.0 C182.4,383.7 194.0,381.7 200.0,380.6 C206.0,379.5 207.3,379.0 210.9,378.2 C214.5,377.4 218.2,376.6 221.8,375.8 C225.4,375.0 229.1,374.0 232.7,373.2 C236.3,372.4 240.4,371.8 243.6,371.2 C246.8,370.6 250.6,369.6 252.0,369.6 C253.4,369.7 252.2,370.6 251.8,371.5 C251.4,372.4 250.6,373.7 249.6,375.0 C248.6,376.3 247.7,377.9 245.8,379.3 C243.9,380.7 241.3,382.1 238.2,383.3 C235.1,384.5 231.9,385.8 227.3,386.7 C222.8,387.6 215.5,388.3 210.9,388.9 C206.3,389.4 206.0,389.6 200.0,390.0 C194.0,390.4 183.3,390.9 175.0,391.3 C166.7,391.8 159.2,392.3 150.0,392.7 C140.8,393.1 128.3,393.6 120.0,393.9 C111.7,394.2 108.3,394.3 100.0,394.7 C91.7,395.1 77.5,395.8 70.0,396.2 C62.5,396.6 58.7,397.0 55.0,397.4 C51.3,397.8 49.5,398.4 48.0,398.4 C46.5,398.4 46.3,397.6 46.0,397.4" fill="none" stroke="#1ee87a" stroke-width="1" stroke-linejoin="round"/>
<path d="M46.0,397.5 C48.3,397.2 54.3,396.3 60.0,395.9 C65.7,395.5 73.3,395.4 80.0,395.2 C86.7,395.0 92.5,394.9 100.0,394.6 C107.5,394.3 116.7,393.8 125.0,393.2 C133.3,392.6 141.7,392.2 150.0,391.3 C158.3,390.4 166.7,388.7 175.0,387.5 C183.3,386.3 194.0,385.1 200.0,384.2 C206.0,383.3 207.3,383.0 210.9,382.2 C214.5,381.4 218.2,380.5 221.8,379.6 C225.4,378.7 229.1,378.0 232.7,376.9 C236.3,375.8 240.3,374.2 243.6,373.1 C246.8,372.0 250.8,370.4 252.2,370.2 C253.6,370.0 252.3,371.1 252.0,372.0 C251.7,372.9 251.2,374.4 250.2,375.6 C249.2,376.9 247.8,378.2 245.8,379.5 C243.8,380.8 241.3,382.2 238.2,383.4 C235.1,384.6 231.9,385.8 227.3,386.7 C222.8,387.6 215.5,388.3 210.9,388.9 C206.3,389.4 206.0,389.6 200.0,390.0 C194.0,390.4 183.3,390.9 175.0,391.3 C166.7,391.8 159.2,392.3 150.0,392.7 C140.8,393.1 128.3,393.6 120.0,393.9 C111.7,394.2 108.3,394.3 100.0,394.7 C91.7,395.1 77.5,395.8 70.0,396.2 C62.5,396.6 58.7,397.0 55.0,397.4 C51.3,397.8 49.5,398.4 48.0,398.4 C46.5,398.4 46.3,397.6 46.0,397.5" fill="none" stroke="#8080ff" stroke-width="1" stroke-linejoin="round"/>
<path d="M46.0,397.6 C48.3,397.3 54.3,396.4 60.0,396.0 C65.7,395.6 73.3,395.5 80.0,395.3 C86.7,395.1 92.5,395.0 100.0,394.7 C107.5,394.4 116.7,394.0 125.0,393.5 C133.3,393.0 141.7,392.6 150.0,391.8 C158.3,391.0 166.7,389.4 175.0,388.5 C183.3,387.6 194.0,387.3 200.0,386.6 C206.0,385.9 207.3,385.1 210.9,384.3 C214.5,383.5 218.2,382.8 221.8,381.8 C225.4,380.9 229.1,379.8 232.7,378.6 C236.3,377.4 240.3,376.0 243.6,374.7 C246.9,373.4 250.9,371.2 252.4,370.8 C253.9,370.4 252.7,371.7 252.3,372.5 C251.9,373.3 251.3,374.5 250.2,375.7 C249.1,376.9 247.8,378.2 245.8,379.5 C243.8,380.8 241.3,382.2 238.2,383.4 C235.1,384.6 231.9,385.7 227.3,386.6 C222.8,387.5 215.5,388.2 210.9,388.8 C206.3,389.4 206.0,389.5 200.0,389.9 C194.0,390.3 183.3,390.8 175.0,391.2 C166.7,391.6 159.2,392.2 150.0,392.6 C140.8,393.0 128.3,393.5 120.0,393.8 C111.7,394.1 108.3,394.2 100.0,394.6 C91.7,395.0 77.5,395.7 70.0,396.1 C62.5,396.6 58.7,396.9 55.0,397.3 C51.3,397.7 49.5,398.2 48.0,398.3 C46.5,398.4 46.3,397.7 46.0,397.6" fill="none" stroke="#00ffff" stroke-width="1" stroke-linejoin="round"/>
<rect x="39.2" y="253.2" width="32.2" height="30.1" fill="#fff" stroke="#8c8c8c" stroke-width="1"/>
<path d="M43.2,257.5 H51.2" stroke="#808080" stroke-width="1.0"/>
<text x="54.8" y="259.2" font-family="DejaVu Sans Condensed, Liberation Sans, sans-serif" font-size="4.8" fill="#222" stroke="#222" stroke-width="0.05" textLength="12.3" lengthAdjust="spacingAndGlyphs">scan 1</text>
<path d="M43.2,262.65 H51.2" stroke="#ff8080" stroke-width="1.2"/>
<text x="54.8" y="264.35" font-family="DejaVu Sans Condensed, Liberation Sans, sans-serif" font-size="4.8" fill="#222" stroke="#222" stroke-width="0.05" textLength="12.3" lengthAdjust="spacingAndGlyphs">scan 2</text>
<path d="M43.2,267.8 H51.2" stroke="#1ee87a" stroke-width="2.0"/>
<text x="54.8" y="269.5" font-family="DejaVu Sans Condensed, Liberation Sans, sans-serif" font-size="4.8" fill="#222" stroke="#222" stroke-width="0.05" textLength="12.3" lengthAdjust="spacingAndGlyphs">scan 3</text>
<path d="M43.2,272.95 H51.2" stroke="#8080ff" stroke-width="1.6"/>
<text x="54.8" y="274.65" font-family="DejaVu Sans Condensed, Liberation Sans, sans-serif" font-size="4.8" fill="#222" stroke="#222" stroke-width="0.05" textLength="12.3" lengthAdjust="spacingAndGlyphs">scan 4</text>
<path d="M43.2,278.1 H51.2" stroke="#00ffff" stroke-width="1.5"/>
<text x="54.8" y="279.8" font-family="DejaVu Sans Condensed, Liberation Sans, sans-serif" font-size="4.8" fill="#222" stroke="#222" stroke-width="0.05" textLength="12.3" lengthAdjust="spacingAndGlyphs">scan 5</text>
<text x="31" y="421.7" text-anchor="end" font-family="DejaVu Sans Condensed, Liberation Sans, sans-serif" font-size="11.5" fill="#1a1a1a" stroke="#1a1a1a" stroke-width="0.15">-2</text>
<text x="31" y="397.7" text-anchor="end" font-family="DejaVu Sans Condensed, Liberation Sans, sans-serif" font-size="11.5" fill="#1a1a1a" stroke="#1a1a1a" stroke-width="0.15">0</text>
<text x="31" y="373.7" text-anchor="end" font-family="DejaVu Sans Condensed, Liberation Sans, sans-serif" font-size="11.5" fill="#1a1a1a" stroke="#1a1a1a" stroke-width="0.15">2</text>
<text x="31" y="349.7" text-anchor="end" font-family="DejaVu Sans Condensed, Liberation Sans, sans-serif" font-size="11.5" fill="#1a1a1a" stroke="#1a1a1a" stroke-width="0.15">4</text>
<text x="31" y="325.7" text-anchor="end" font-family="DejaVu Sans Condensed, Liberation Sans, sans-serif" font-size="11.5" fill="#1a1a1a" stroke="#1a1a1a" stroke-width="0.15">6</text>
<text x="31" y="301.7" text-anchor="end" font-family="DejaVu Sans Condensed, Liberation Sans, sans-serif" font-size="11.5" fill="#1a1a1a" stroke="#1a1a1a" stroke-width="0.15">8</text>
<text x="31" y="277.7" text-anchor="end" font-family="DejaVu Sans Condensed, Liberation Sans, sans-serif" font-size="11.5" fill="#1a1a1a" stroke="#1a1a1a" stroke-width="0.15">10</text>
<text x="31" y="253.7" text-anchor="end" font-family="DejaVu Sans Condensed, Liberation Sans, sans-serif" font-size="11.5" fill="#1a1a1a" stroke="#1a1a1a" stroke-width="0.15">12</text>
<text x="46.1" y="432.2" text-anchor="middle" font-family="DejaVu Sans Condensed, Liberation Sans, sans-serif" font-size="11.5" fill="#1a1a1a" stroke="#1a1a1a" stroke-width="0.15">0</text>
<text x="149.8" y="432.2" text-anchor="middle" font-family="DejaVu Sans Condensed, Liberation Sans, sans-serif" font-size="11.5" fill="#1a1a1a" stroke="#1a1a1a" stroke-width="0.15">1</text>
<text x="253.5" y="432.2" text-anchor="middle" font-family="DejaVu Sans Condensed, Liberation Sans, sans-serif" font-size="11.5" fill="#1a1a1a" stroke="#1a1a1a" stroke-width="0.15">2</text>
<text x="107.6" y="447.7" font-family="DejaVu Sans, Liberation Sans, sans-serif" font-weight="bold" font-size="14.2" fill="#111" stroke="#111" stroke-width="0.35" textLength="82.6" lengthAdjust="spacingAndGlyphs">E / SCE (V)</text>
<text transform="translate(14.8,373.8) rotate(-90)" font-family="DejaVu Sans, Liberation Sans, sans-serif" font-weight="bold" font-size="13.2" fill="#111" stroke="#111" stroke-width="0.35"><tspan textLength="72.6" lengthAdjust="spacingAndGlyphs">j / mA.cm</tspan><tspan dx="-1.0" dy="-5.2" font-size="9.5">-2</tspan></text>
<text x="126.6" y="467.3" font-family="Liberation Serif, serif" font-weight="bold" font-size="11.5" fill="#1a1a1a" stroke="#1a1a1a" stroke-width="0.1">(c)</text>
<path d="M311.5,251.3 V419.0 H541" fill="none" stroke="#8a8a8a" stroke-width="1"/>
<path d="M308,418.5 H311.5" stroke="#8a8a8a" stroke-width="1"/>
<path d="M309.3,414.32 H311.5" stroke="#8a8a8a" stroke-width="1"/>
<path d="M309.3,410.14 H311.5" stroke="#8a8a8a" stroke-width="1"/>
<path d="M309.3,405.96 H311.5" stroke="#8a8a8a" stroke-width="1"/>
<path d="M309.3,401.78 H311.5" stroke="#8a8a8a" stroke-width="1"/>
<path d="M308,397.6 H311.5" stroke="#8a8a8a" stroke-width="1"/>
<path d="M309.3,393.42 H311.5" stroke="#8a8a8a" stroke-width="1"/>
<path d="M309.3,389.24 H311.5" stroke="#8a8a8a" stroke-width="1"/>
<path d="M309.3,385.06 H311.5" stroke="#8a8a8a" stroke-width="1"/>
<path d="M309.3,380.88 H311.5" stroke="#8a8a8a" stroke-width="1"/>
<path d="M308,376.7 H311.5" stroke="#8a8a8a" stroke-width="1"/>
<path d="M309.3,372.52 H311.5" stroke="#8a8a8a" stroke-width="1"/>
<path d="M309.3,368.34 H311.5" stroke="#8a8a8a" stroke-width="1"/>
<path d="M309.3,364.16 H311.5" stroke="#8a8a8a" stroke-width="1"/>
<path d="M309.3,359.98 H311.5" stroke="#8a8a8a" stroke-width="1"/>
<path d="M308,355.8 H311.5" stroke="#8a8a8a" stroke-width="1"/>
<path d="M309.3,351.62 H311.5" stroke="#8a8a8a" stroke-width="1"/>
<path d="M309.3,347.44 H311.5" stroke="#8a8a8a" stroke-width="1"/>
<path d="M309.3,343.26 H311.5" stroke="#8a8a8a" stroke-width="1"/>
<path d="M309.3,339.08 H311.5" stroke="#8a8a8a" stroke-width="1"/>
<path d="M308,334.9 H311.5" stroke="#8a8a8a" stroke-width="1"/>
<path d="M309.3,330.72 H311.5" stroke="#8a8a8a" stroke-width="1"/>
<path d="M309.3,326.54 H311.5" stroke="#8a8a8a" stroke-width="1"/>
<path d="M309.3,322.36 H311.5" stroke="#8a8a8a" stroke-width="1"/>
<path d="M309.3,318.18 H311.5" stroke="#8a8a8a" stroke-width="1"/>
<path d="M308,314 H311.5" stroke="#8a8a8a" stroke-width="1"/>
<path d="M309.3,309.82 H311.5" stroke="#8a8a8a" stroke-width="1"/>
<path d="M309.3,305.64 H311.5" stroke="#8a8a8a" stroke-width="1"/>
<path d="M309.3,301.46 H311.5" stroke="#8a8a8a" stroke-width="1"/>
<path d="M309.3,297.28 H311.5" stroke="#8a8a8a" stroke-width="1"/>
<path d="M308,293.1 H311.5" stroke="#8a8a8a" stroke-width="1"/>
<path d="M309.3,288.92 H311.5" stroke="#8a8a8a" stroke-width="1"/>
<path d="M309.3,284.74 H311.5" stroke="#8a8a8a" stroke-width="1"/>
<path d="M309.3,280.56 H311.5" stroke="#8a8a8a" stroke-width="1"/>
<path d="M309.3,276.38 H311.5" stroke="#8a8a8a" stroke-width="1"/>
<path d="M308,272.2 H311.5" stroke="#8a8a8a" stroke-width="1"/>
<path d="M309.3,268.02 H311.5" stroke="#8a8a8a" stroke-width="1"/>
<path d="M309.3,263.84 H311.5" stroke="#8a8a8a" stroke-width="1"/>
<path d="M309.3,259.66 H311.5" stroke="#8a8a8a" stroke-width="1"/>
<path d="M309.3,255.48 H311.5" stroke="#8a8a8a" stroke-width="1"/>
<path d="M308,251.3 H311.5" stroke="#8a8a8a" stroke-width="1"/>
<path d="M322.2,419 V422.5" stroke="#8a8a8a" stroke-width="1"/>
<path d="M343.12,419 V421.2" stroke="#8a8a8a" stroke-width="1"/>
<path d="M364.04,419 V421.2" stroke="#8a8a8a" stroke-width="1"/>
<path d="M384.96,419 V421.2" stroke="#8a8a8a" stroke-width="1"/>
<path d="M405.88,419 V421.2" stroke="#8a8a8a" stroke-width="1"/>
<path d="M426.8,419 V422.5" stroke="#8a8a8a" stroke-width="1"/>
<path d="M447.72,419 V421.2" stroke="#8a8a8a" stroke-width="1"/>
<path d="M468.64,419 V421.2" stroke="#8a8a8a" stroke-width="1"/>
<path d="M489.56,419 V421.2" stroke="#8a8a8a" stroke-width="1"/>
<path d="M510.48,419 V421.2" stroke="#8a8a8a" stroke-width="1"/>
<path d="M531.4,419 V422.5" stroke="#8a8a8a" stroke-width="1"/>
<path d="M322.4,397.7 C327.0,397.6 339.9,397.5 350.0,397.3 C360.1,397.1 374.1,396.8 382.7,396.6 C391.3,396.4 397.2,396.1 401.8,395.9 C406.4,395.7 407.8,395.6 410.0,395.3 C412.2,395.1 413.6,395.0 415.1,394.4 C416.6,393.8 417.7,392.7 418.8,391.6 C419.9,390.5 420.7,389.1 421.5,387.7 C422.3,386.3 423.0,384.7 423.6,383.0 C424.2,381.3 424.7,380.5 425.4,377.4 C426.1,374.3 426.9,370.2 427.9,364.6 C428.9,359.1 430.4,349.2 431.3,344.1 C432.2,339.0 432.7,337.7 433.5,334.0 C434.3,330.3 435.2,325.8 436.2,322.0 C437.2,318.2 438.3,315.1 439.5,311.5 C440.7,307.9 442.0,304.2 443.5,300.5 C445.0,296.8 446.3,293.4 448.4,289.1 C450.5,284.8 453.6,278.7 456.1,274.5 C458.7,270.3 461.1,266.5 463.7,263.9 C466.2,261.2 469.1,259.3 471.4,258.6 C473.6,257.9 475.3,258.6 477.2,259.5 C479.1,260.4 481.0,261.8 482.9,264.2 C484.8,266.6 486.8,269.6 488.7,273.8 C490.6,278.0 492.9,284.3 494.5,289.1 C496.1,293.9 497.0,298.1 498.3,302.6 C499.6,307.1 500.9,311.6 502.1,316.0 C503.3,320.4 504.7,325.3 505.7,329.0 C506.7,332.7 507.2,334.6 508.0,338.0 C508.8,341.4 509.4,345.6 510.6,349.5 C511.9,353.4 514.1,358.5 515.5,361.7 C516.9,364.9 517.8,366.4 519.0,368.5 C520.2,370.6 521.6,372.4 522.9,374.0 C524.2,375.6 525.8,376.9 527.0,378.0 C528.2,379.1 530.1,379.4 530.3,380.3 C530.5,381.2 529.2,382.5 528.0,383.5 C526.8,384.5 526.0,385.7 523.0,386.5 C520.0,387.3 514.5,387.9 510.0,388.5 C505.5,389.1 504.4,389.5 495.9,390.3 C487.4,391.1 471.8,392.4 459.1,393.3 C446.5,394.2 433.2,395.1 420.0,395.8 C406.8,396.6 389.7,397.2 380.0,397.8 C370.3,398.4 366.5,398.8 361.6,399.3 C356.7,399.8 354.3,400.4 350.7,400.9 C347.1,401.3 343.4,402.0 339.8,402.0 C336.2,402.0 331.8,401.5 328.9,401.1 C326.0,400.7 323.5,399.8 322.4,399.5" fill="none" stroke="#808080" stroke-width="1" stroke-linejoin="round"/>
<path d="M322.4,399.9 C323.5,400.2 326.0,401.3 328.9,401.8 C331.8,402.3 336.2,403.0 339.8,403.0 C343.4,403.0 347.1,402.5 350.7,402.0 C354.3,401.5 356.3,400.9 361.6,400.2 C366.9,399.5 374.6,398.6 382.7,397.8 C390.8,397.0 401.4,396.4 410.0,395.5 C418.6,394.6 426.3,393.2 434.5,392.2 C442.7,391.2 450.9,390.5 459.1,389.7 C467.3,388.9 475.4,388.1 483.6,387.5 C491.8,386.9 501.2,386.6 508.2,386.2 C515.2,385.8 521.7,385.3 525.4,385.4 C529.1,385.5 530.0,386.1 530.3,386.8 C530.6,387.5 528.7,388.7 527.0,389.5 C525.3,390.3 525.2,390.8 520.0,391.5 C514.8,392.2 506.0,393.1 495.9,393.9 C485.8,394.7 473.4,395.6 459.1,396.3 C444.8,397.0 423.2,397.8 410.0,398.3 C396.8,398.8 388.1,399.1 380.0,399.4 C371.9,399.7 366.5,399.9 361.6,400.3 C356.7,400.7 354.3,401.3 350.7,401.7 C347.1,402.1 343.4,402.8 339.8,402.8 C336.2,402.8 331.8,402.1 328.9,401.6 C326.0,401.1 323.5,400.2 322.4,399.9" fill="none" stroke="#ff8080" stroke-width="1" stroke-linejoin="round"/>
<path d="M322.4,399.6 C323.5,399.9 326.0,401.0 328.9,401.5 C331.8,402.0 336.2,402.6 339.8,402.6 C343.4,402.6 347.1,402.1 350.7,401.6 C354.3,401.2 356.3,400.5 361.6,399.9 C366.9,399.3 374.6,398.6 382.7,398.0 C390.8,397.4 400.4,397.2 410.0,396.6 C419.6,396.0 431.8,394.7 440.0,394.2 C448.2,393.7 449.8,393.9 459.1,393.4 C468.4,392.9 484.8,392.0 495.9,391.2 C506.9,390.4 519.7,389.0 525.4,388.8 C531.1,388.6 529.9,389.2 530.3,390.0 C530.7,390.8 531.5,392.3 527.8,393.3 C524.1,394.3 519.6,395.0 508.2,395.8 C496.8,396.6 475.5,397.4 459.1,397.9 C442.7,398.4 423.2,398.4 410.0,398.6 C396.8,398.8 388.1,399.0 380.0,399.2 C371.9,399.4 366.5,399.6 361.6,400.0 C356.7,400.4 354.3,401.0 350.7,401.4 C347.1,401.8 343.4,402.4 339.8,402.4 C336.2,402.4 331.8,401.9 328.9,401.4 C326.0,400.9 323.5,399.9 322.4,399.6" fill="none" stroke="#1ee87a" stroke-width="1" stroke-linejoin="round"/>
<path d="M322.4,399.4 C323.1,399.2 323.8,398.4 326.7,398.1 C329.6,397.8 331.2,397.9 339.8,397.7 C348.4,397.5 366.3,397.3 378.0,397.2 C389.7,397.1 399.7,397.2 410.0,396.9 C420.3,396.6 431.8,396.0 440.0,395.6 C448.2,395.2 449.8,395.1 459.1,394.6 C468.4,394.1 484.2,393.4 495.9,392.7 C507.5,392.0 523.4,390.3 529.0,390.2 C534.6,390.1 529.7,391.4 529.5,392.0 C529.3,392.6 531.3,392.9 527.8,393.6 C524.2,394.3 519.6,395.4 508.2,396.1 C496.8,396.9 475.5,397.7 459.1,398.1 C442.7,398.5 423.2,398.4 410.0,398.5 C396.8,398.6 388.1,398.7 380.0,398.9 C371.9,399.1 366.5,399.4 361.6,399.8 C356.7,400.2 354.3,400.8 350.7,401.2 C347.1,401.6 343.4,402.3 339.8,402.3 C336.2,402.3 331.8,401.7 328.9,401.2 C326.0,400.7 323.5,399.7 322.4,399.4" fill="none" stroke="#8080ff" stroke-width="1" stroke-linejoin="round"/>
<path d="M322.4,399.2 C323.1,399.0 323.8,398.2 326.7,397.9 C329.6,397.6 331.2,397.6 339.8,397.5 C348.4,397.4 366.3,397.1 378.0,397.0 C389.7,396.9 399.7,397.3 410.0,397.1 C420.3,396.9 431.8,396.2 440.0,395.9 C448.2,395.5 449.8,395.4 459.1,395.0 C468.4,394.6 484.2,393.9 495.9,393.2 C507.6,392.5 523.8,390.8 529.5,390.6 C535.2,390.5 530.3,391.8 530.0,392.3 C529.7,392.8 531.4,393.1 527.8,393.8 C524.2,394.5 519.6,395.6 508.2,396.3 C496.8,397.0 475.5,397.8 459.1,398.2 C442.7,398.6 423.2,398.5 410.0,398.6 C396.8,398.7 388.1,398.6 380.0,398.8 C371.9,399.0 366.5,399.3 361.6,399.7 C356.7,400.1 354.3,400.7 350.7,401.1 C347.1,401.5 343.4,402.2 339.8,402.2 C336.2,402.2 331.8,401.6 328.9,401.1 C326.0,400.6 323.5,399.5 322.4,399.2" fill="none" stroke="#00ffff" stroke-width="1" stroke-linejoin="round"/>
<rect x="315.6" y="254.9" width="44.0" height="53.3" fill="#fff" stroke="#8c8c8c" stroke-width="1"/>
<path d="M319.7,261.8 H327.7" stroke="#808080" stroke-width="1.2"/>
<text x="331.8" y="265.7" font-family="DejaVu Sans Condensed, Liberation Sans, sans-serif" font-size="9" fill="#222" stroke="#222" stroke-width="0.25" textLength="23.1" lengthAdjust="spacingAndGlyphs">scan 1</text>
<path d="M319.7,271.7 H327.7" stroke="#ff8080" stroke-width="1.2"/>
<text x="331.8" y="275.6" font-family="DejaVu Sans Condensed, Liberation Sans, sans-serif" font-size="9" fill="#222" stroke="#222" stroke-width="0.25" textLength="23.1" lengthAdjust="spacingAndGlyphs">scan 2</text>
<path d="M319.7,281.6 H327.7" stroke="#1ee87a" stroke-width="1.2"/>
<text x="331.8" y="285.5" font-family="DejaVu Sans Condensed, Liberation Sans, sans-serif" font-size="9" fill="#222" stroke="#222" stroke-width="0.25" textLength="23.1" lengthAdjust="spacingAndGlyphs">scan 3</text>
<path d="M319.7,291.5 H327.7" stroke="#8080ff" stroke-width="1.2"/>
<text x="331.8" y="295.4" font-family="DejaVu Sans Condensed, Liberation Sans, sans-serif" font-size="9" fill="#222" stroke="#222" stroke-width="0.25" textLength="23.1" lengthAdjust="spacingAndGlyphs">scan 4</text>
<path d="M319.7,301.4 H327.7" stroke="#00ffff" stroke-width="1.2"/>
<text x="331.8" y="305.3" font-family="DejaVu Sans Condensed, Liberation Sans, sans-serif" font-size="9" fill="#222" stroke="#222" stroke-width="0.25" textLength="23.1" lengthAdjust="spacingAndGlyphs">scan 5</text>
<text x="306.6" y="422.7" text-anchor="end" font-family="DejaVu Sans Condensed, Liberation Sans, sans-serif" font-size="11.5" fill="#1a1a1a" stroke="#1a1a1a" stroke-width="0.15">-1</text>
<text x="306.6" y="401.8" text-anchor="end" font-family="DejaVu Sans Condensed, Liberation Sans, sans-serif" font-size="11.5" fill="#1a1a1a" stroke="#1a1a1a" stroke-width="0.15">0</text>
<text x="306.6" y="380.9" text-anchor="end" font-family="DejaVu Sans Condensed, Liberation Sans, sans-serif" font-size="11.5" fill="#1a1a1a" stroke="#1a1a1a" stroke-width="0.15">1</text>
<text x="306.6" y="360" text-anchor="end" font-family="DejaVu Sans Condensed, Liberation Sans, sans-serif" font-size="11.5" fill="#1a1a1a" stroke="#1a1a1a" stroke-width="0.15">2</text>
<text x="306.6" y="339.1" text-anchor="end" font-family="DejaVu Sans Condensed, Liberation Sans, sans-serif" font-size="11.5" fill="#1a1a1a" stroke="#1a1a1a" stroke-width="0.15">3</text>
<text x="306.6" y="318.2" text-anchor="end" font-family="DejaVu Sans Condensed, Liberation Sans, sans-serif" font-size="11.5" fill="#1a1a1a" stroke="#1a1a1a" stroke-width="0.15">4</text>
<text x="306.6" y="297.3" text-anchor="end" font-family="DejaVu Sans Condensed, Liberation Sans, sans-serif" font-size="11.5" fill="#1a1a1a" stroke="#1a1a1a" stroke-width="0.15">5</text>
<text x="306.6" y="276.4" text-anchor="end" font-family="DejaVu Sans Condensed, Liberation Sans, sans-serif" font-size="11.5" fill="#1a1a1a" stroke="#1a1a1a" stroke-width="0.15">6</text>
<text x="306.6" y="255.5" text-anchor="end" font-family="DejaVu Sans Condensed, Liberation Sans, sans-serif" font-size="11.5" fill="#1a1a1a" stroke="#1a1a1a" stroke-width="0.15">7</text>
<text x="322.2" y="432.8" text-anchor="middle" font-family="DejaVu Sans Condensed, Liberation Sans, sans-serif" font-size="11.5" fill="#1a1a1a" stroke="#1a1a1a" stroke-width="0.15">0</text>
<text x="426.8" y="432.8" text-anchor="middle" font-family="DejaVu Sans Condensed, Liberation Sans, sans-serif" font-size="11.5" fill="#1a1a1a" stroke="#1a1a1a" stroke-width="0.15">1</text>
<text x="531.4" y="432.8" text-anchor="middle" font-family="DejaVu Sans Condensed, Liberation Sans, sans-serif" font-size="11.5" fill="#1a1a1a" stroke="#1a1a1a" stroke-width="0.15">2</text>
<text x="384.8" y="448.7" font-family="DejaVu Sans, Liberation Sans, sans-serif" font-weight="bold" font-size="14.2" fill="#111" stroke="#111" stroke-width="0.35" textLength="82.3" lengthAdjust="spacingAndGlyphs">E / SCE (V)</text>
<text transform="translate(292.6,375.3) rotate(-90)" font-family="DejaVu Sans, Liberation Sans, sans-serif" font-weight="bold" font-size="13.2" fill="#111" stroke="#111" stroke-width="0.35"><tspan textLength="73.4" lengthAdjust="spacingAndGlyphs">j / mA.cm</tspan><tspan dx="-1.0" dy="-5.2" font-size="9.5">-2</tspan></text>
<text x="401.6" y="465.3" font-family="Liberation Serif, serif" font-weight="bold" font-size="11.5" fill="#1a1a1a" stroke="#1a1a1a" stroke-width="0.1">(d)</text>
</svg></body></html>
